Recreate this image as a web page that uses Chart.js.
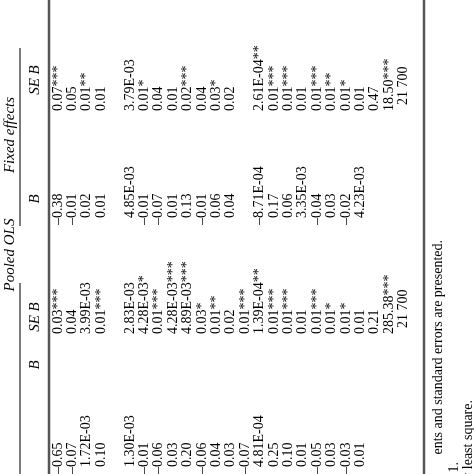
<!DOCTYPE html>
<html><head><meta charset="utf-8">
<script src="https://cdn.jsdelivr.net/npm/chart.js@4"></script>
<style>html,body{margin:0;padding:0;background:#fff}#w{width:474px;height:474px}</style>
</head><body><div id="w"><canvas id="c" width="474" height="474"></canvas></div>
<script>
// Row index (table rows run left→right on the rotated page); row 4 is blank
const rowIndex = [0,1,2,3,5,6,7,8,9,10,11,12,13,14,15,16,17,18,19,20,21,22,23,24];
const pooledB  = ["–0.65","–0.07","1.72E-03","0.10","1.30E-03","–0.01","–0.06","0.03","0.20","–0.06","0.04","0.03","–0.07","4.81E-04","0.25","0.10","0.01","–0.05","0.03","–0.03","0.01","","",""];
const pooledSE = ["0.03***","0.04","3.99E-03","0.01***","2.83E-03","4.28E-03*","0.01***","4.28E-03***","4.89E-03***","0.03*","0.01**","0.02","0.01***","1.39E-04**","0.01***","0.01***","0.01","0.01***","0.01*","0.01*","0.01","0.21","285.38***","21 700"];
const fixedB   = ["–0.38","–0.01","0.02","0.01","4.85E-03","–0.01","–0.07","0.01","0.13","–0.01","0.06","0.04","","–8.71E-04","0.17","0.06","3.35E-03","–0.04","0.03","–0.02","4.23E-03","","",""];
const fixedSE  = ["0.07***","0.05","0.01**","0.01","3.79E-03","0.01*","0.04","0.01","0.02***","0.04","0.03*","0.02","","2.61E-04**","0.01***","0.01***","0.01","0.01***","0.01**","0.01*","0.01","0.47","18.50***","21 700"];
const groupHeaders = ["Fixed effects","Pooled OLS"];
const colHeaders = ["B","SE B","B","SE B"];
const notes = ["ents and standard errors are presented.","1.","ary least square."];

const F = '14px "Liberation Serif", "DejaVu Serif", serif';
const FI = 'italic 15px "Liberation Serif", serif';
function rtext(ctx, s, x, y, align, font){
  ctx.save(); ctx.translate(x,y); ctx.rotate(-Math.PI/2);
  ctx.font = font||F; ctx.textAlign = align||'left'; ctx.textBaseline='middle';
  let off = 0;
  if ((align||'left')==='left' && s.startsWith('–')) off = -ctx.measureText('–').width;
  ctx.fillStyle='#000'; ctx.fillText(s, off, 0); ctx.restore();
}
const tablePlugin = {
  id:'table',
  afterDraw(chart){
    const ctx = chart.ctx, xs = chart.scales.x;
    ctx.save();
    ctx.strokeStyle='#555'; ctx.lineWidth=2.5;
    [49,424].forEach(x=>{ctx.beginPath();ctx.moveTo(x,0);ctx.lineTo(x,474);ctx.stroke();});
    ctx.strokeStyle='#222'; ctx.lineWidth=1.2;
    ctx.beginPath();ctx.moveTo(20,48);ctx.lineTo(20,226);ctx.stroke();
    ctx.beginPath();ctx.moveTo(20,283);ctx.lineTo(20,474);ctx.stroke();
    rtext(ctx, groupHeaders[0], 10, 135, 'center', FI);
    rtext(ctx, groupHeaders[1], 10, 255, 'center', FI);
    rtext(ctx, colHeaders[0], 35, 199, 'center', FI);
    rtext(ctx, colHeaders[1], 35, 80, 'center', FI);
    rtext(ctx, colHeaders[2], 35, 365, 'center', FI);
    rtext(ctx, colHeaders[3], 35, 317, 'center', FI);
    const cols = [[pooledB,467],[pooledSE,334],[fixedB,218],[fixedSE,111]];
    rowIndex.forEach((r,i)=>{
      const x = xs.getPixelForValue(r);
      cols.forEach(([arr,y])=>{
        const s = arr[i]; if(!s) return;
        if (s==='21 700') rtext(ctx, s, x, y-6);
        else rtext(ctx, s, x, y);
      });
    });
    rtext(ctx, notes[0], 438, 240, 'right');
    rtext(ctx, notes[1], 454, 462, 'right');
    rtext(ctx, notes[2], 468, 400, 'right');
    ctx.restore();
  }
};
new Chart(document.getElementById('c'), {
  type:'scatter',
  data:{datasets:[{data:rowIndex.map(r=>({x:r,y:0})), pointRadius:0, showLine:false}]},
  options:{responsive:false, animation:false, events:[],
    layout:{padding:0},
    plugins:{legend:{display:false},tooltip:{enabled:false}},
    scales:{x:{type:'linear',min:-58/14.4,max:-58/14.4+474/14.4,display:false},
            y:{min:0,max:1,display:false}}},
  plugins:[tablePlugin]
});
</script></body></html>
